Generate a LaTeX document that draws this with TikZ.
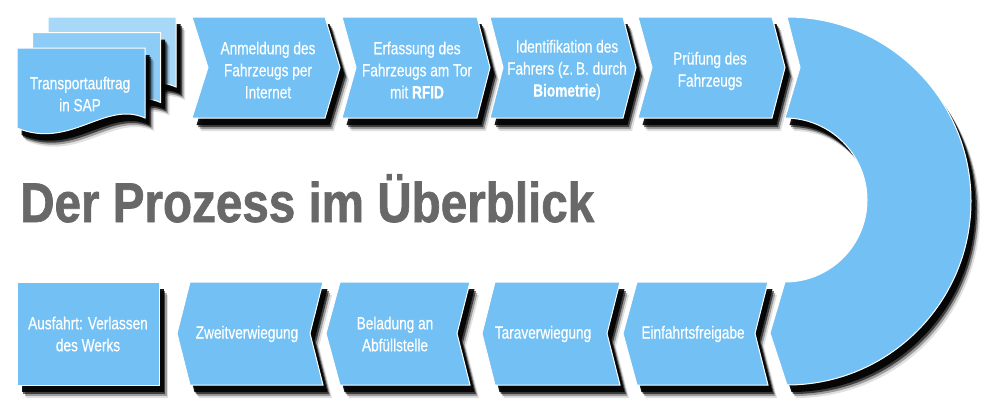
\documentclass[tikz,border=0pt]{standalone}
\usepackage{fontspec}
\setmainfont[FakeStretch=0.78,FakeBold=0.4]{Liberation Sans}
\newfontfamily\titlefont[FakeStretch=0.85,FakeBold=1.2]{Liberation Sans}
\definecolor{boxblue}{RGB}{114,192,244}
\definecolor{midblue}{RGB}{140,204,246}
\definecolor{backblue}{RGB}{168,216,247}
\definecolor{titlegray}{RGB}{104,104,104}
\newcommand\bshape[2]{%
  \fill[black,opacity=0.12,shift={(9,13)}] #2;
  \fill[black,opacity=0.3,shift={(7.5,11)}] #2;
  \fill[black,opacity=0.6,shift={(6,9)}] #2;
  \fill[black,opacity=0.9,shift={(4.5,7)}] #2;
  \path[fill=#1,draw=white,line width=1pt] #2;}
\begin{document}
\begin{tikzpicture}[x=1pt,y=-1pt,
  lbl/.style={text=white,align=center,inner sep=0pt,font=\fontsize{17.5}{22}\selectfont},
  ttl/.style={text=titlegray,inner sep=0pt,anchor=base west,font=\titlefont\bfseries\fontsize{56}{60}\selectfont}
]
\useasboundingbox (0,0) rectangle (1000,407);
% document stack
\bshape{backblue}{(48,17) -- (176,17) -- (176,87) .. controls (136,69) and (101,119) .. (48,97) -- cycle}
\bshape{midblue}{(32.5,32.5) -- (160.5,32.5) -- (160.5,102.5) .. controls (120.5,84.5) and (85.5,134.5) .. (32.5,112.5) -- cycle}
\bshape{boxblue}{(17,48) -- (145,48) -- (145,118) .. controls (105,100) and (70,150) .. (17,128) -- cycle}
% top row chevrons
\bshape{boxblue}{(192,17) -- (325,17) -- (340,67.5) -- (325,118) -- (192,118) -- (208,67.5) -- cycle}
\bshape{boxblue}{(342,17) -- (477,17) -- (490,67.5) -- (477,118) -- (342,118) -- (356,67.5) -- cycle}
\bshape{boxblue}{(490,17) -- (623,17) -- (636,67.5) -- (623,118) -- (490,118) -- (503,67.5) -- cycle}
\bshape{boxblue}{(638,17) -- (772,17) -- (785,67.5) -- (772,118) -- (638,118) -- (652,67.5) -- cycle}
% U turn
\bshape{boxblue}{(787,17) arc[start angle=-90,end angle=90,radius=184] -- (770,333) -- (785,282)
   arc[start angle=90,end angle=-90,radius=82] -- (800,67.5) -- cycle}
% bottom row
\bshape{boxblue}{(17,282) rectangle (159,385)}
\bshape{boxblue}{(177,333.5) -- (190,282) -- (323,282) -- (310,333.5) -- (323,385) -- (190,385) -- cycle}
\bshape{boxblue}{(326,333.5) -- (340,282) -- (470,282) -- (457,333.5) -- (470,385) -- (340,385) -- cycle}
\bshape{boxblue}{(482,333.5) -- (495,282) -- (620,282) -- (607,333.5) -- (620,385) -- (495,385) -- cycle}
\bshape{boxblue}{(623,333.5) -- (637,282) -- (768,282) -- (755,333.5) -- (768,385) -- (637,385) -- cycle}
% texts
\node[lbl] (t0) at (80,94) {Transportauftrag\\in SAP};
\node[lbl] (t1) at (268,70) {Anmeldung des\\Fahrzeugs per\\Internet};
\node[lbl] (t2) at (417,70) {Erfassung des\\Fahrzeugs am Tor\\mit \textbf{RFID}};
\node[lbl] (t3) at (567,70) {Identifikation des\\Fahrers (z.\,B. durch\\\textbf{Biometrie})};
\node[lbl] (t4) at (710,71) {Prüfung des\\Fahrzeugs};
\node[lbl] (b0) at (88,334) {Ausfahrt: Verlassen\\des Werks};
\node[lbl] (b1) at (247,334) {Zweitverwiegung};
\node[lbl] (b2) at (395,334) {Beladung an\\Abfüllstelle};
\node[lbl] (b3) at (543,334) {Taraverwiegung};
\node[lbl] (b4) at (693,334) {Einfahrtsfreigabe};
\node[ttl] (title) at (20,222) {Der Prozess im Überblick};
\end{tikzpicture}
\end{document}
